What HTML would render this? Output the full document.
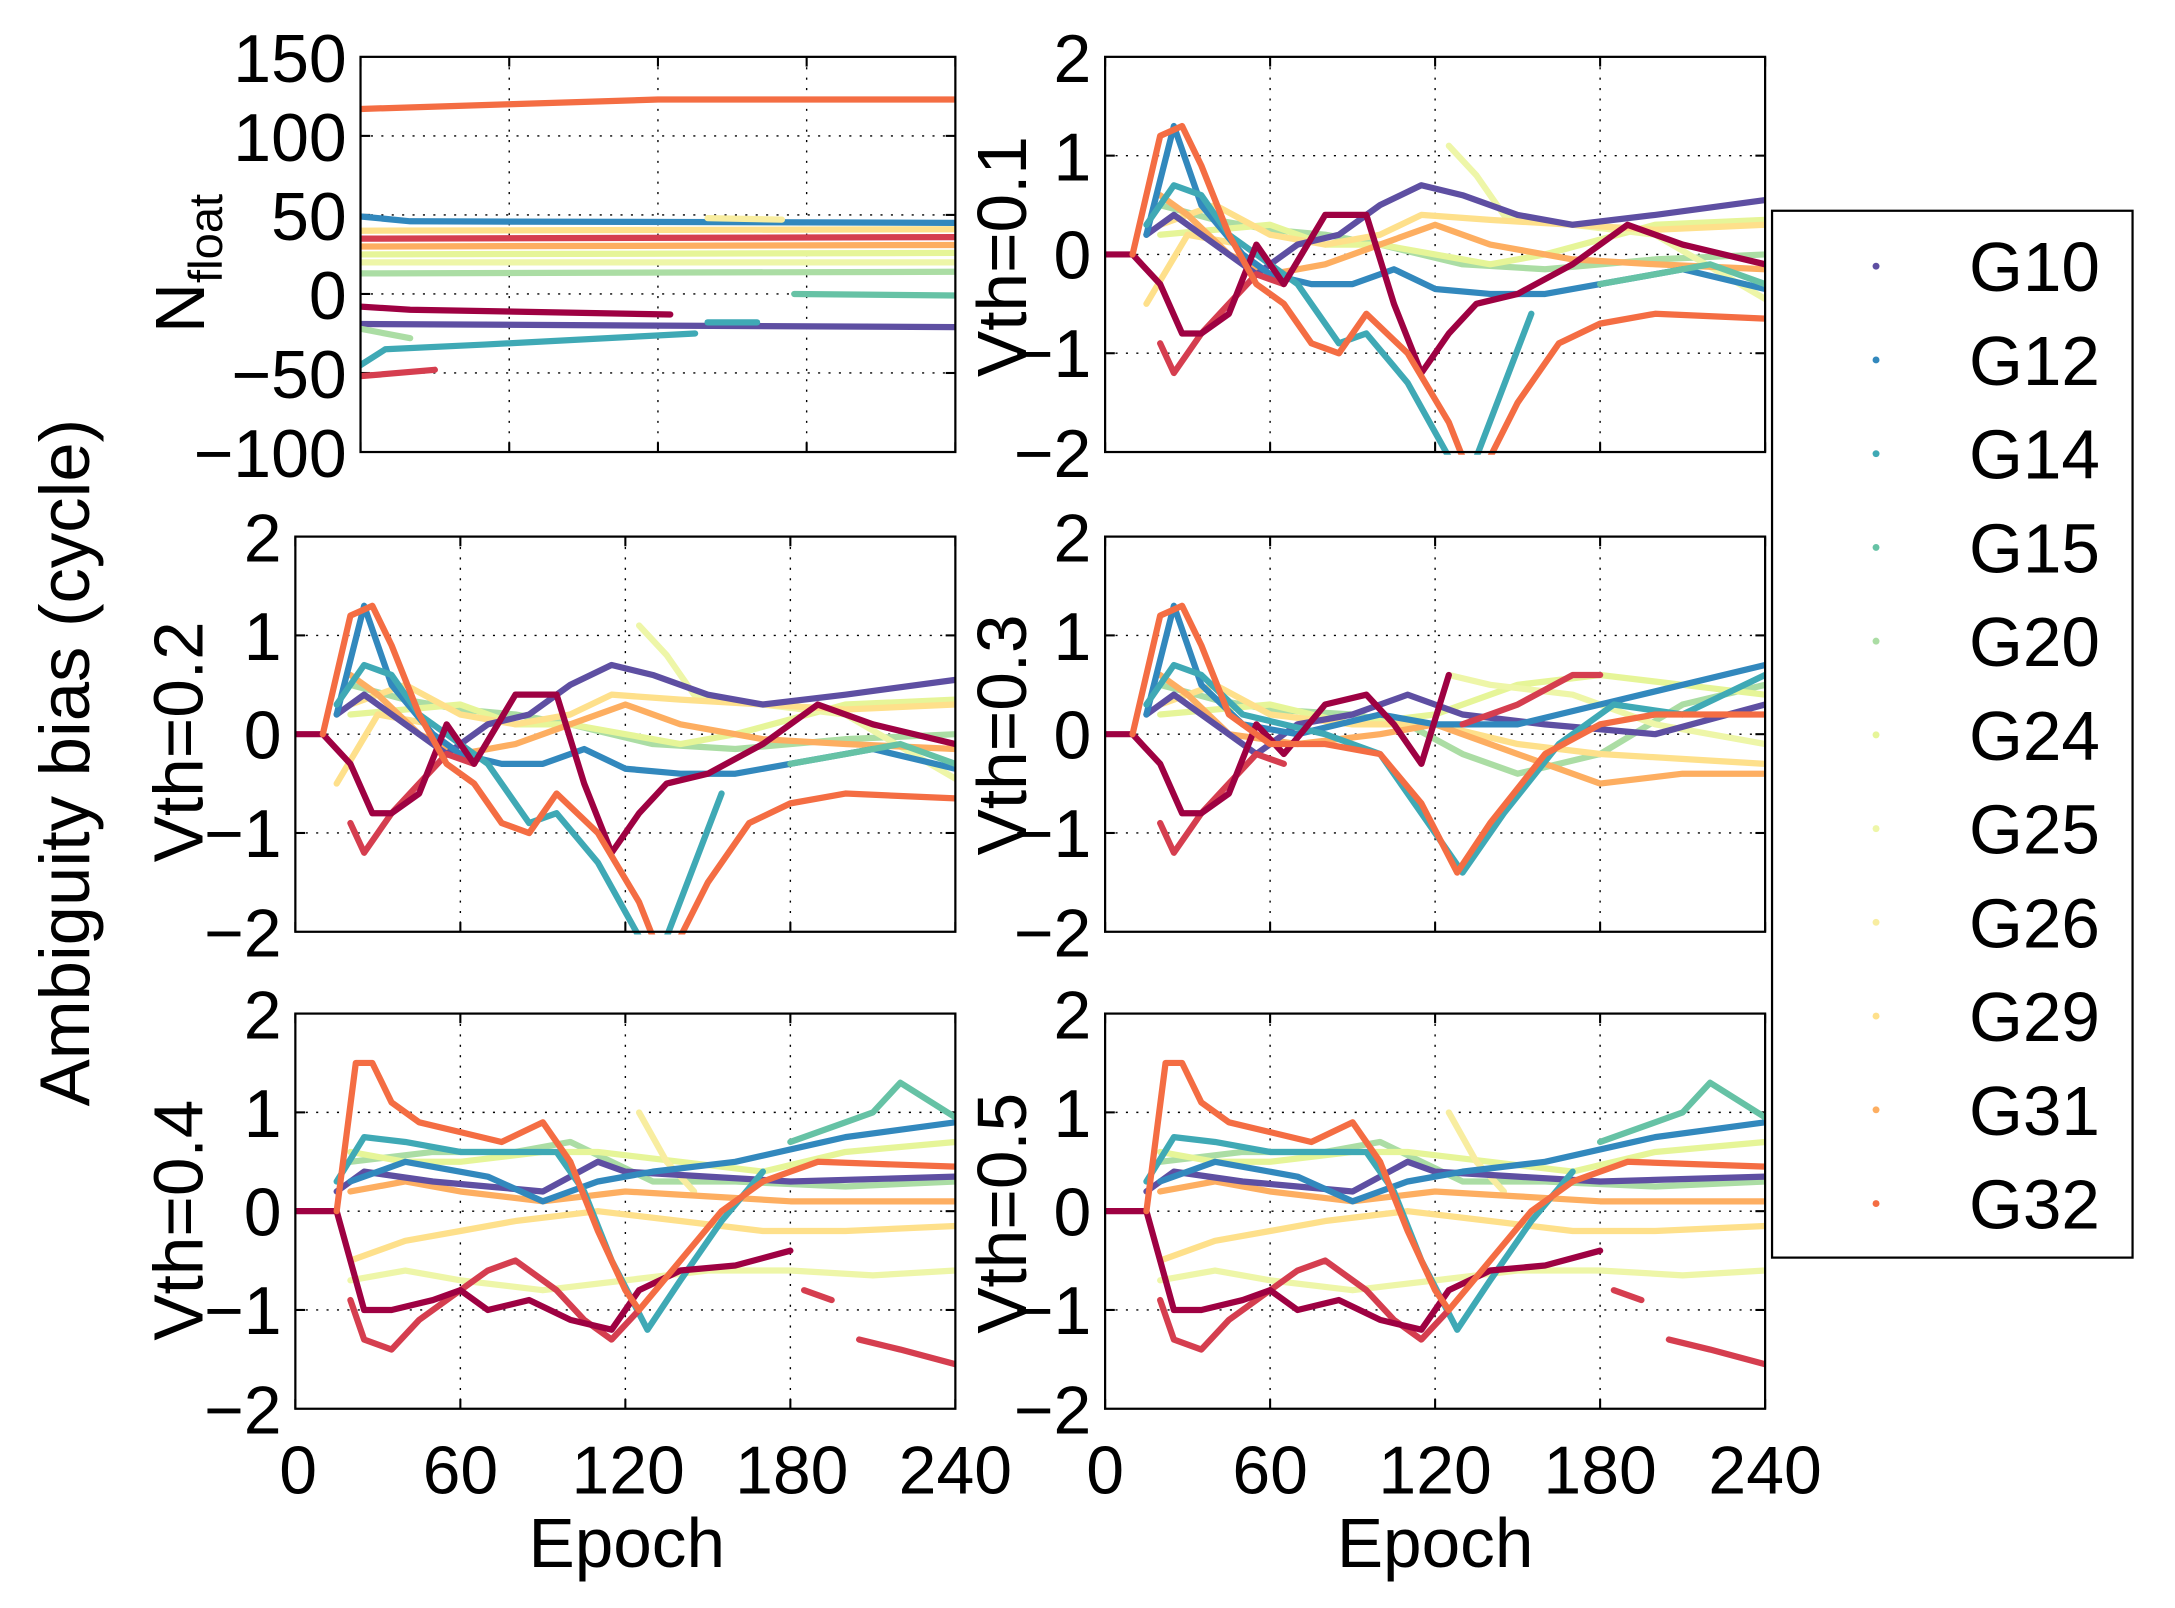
<!DOCTYPE html>
<html><head><meta charset="utf-8"><style>
html,body{margin:0;padding:0;background:#fff}
svg{display:block}
text{font-family:"Liberation Sans",Arial,sans-serif;fill:#000}
</style></head><body>
<svg id="s" width="2175" height="1608" viewBox="0 0 1568.6 1159.7" xmlns="http://www.w3.org/2000/svg">
<rect width="1570" height="1160" fill="#fff"/>
<g id="plots"></g>
<g id="frames" fill="none" stroke="#000" stroke-width="1.6">
<rect x="260" y="41" width="429" height="285"/>
<rect x="797" y="41" width="476" height="285"/>
<rect x="213" y="387" width="476" height="285"/>
<rect x="797" y="387" width="476" height="285"/>
<rect x="213" y="731" width="476" height="285"/>
<rect x="797" y="731" width="476" height="285"/>
</g>
<g font-size="49" text-anchor="end">
<text x="250" y="59">150</text><text x="250" y="116">100</text><text x="250" y="173">50</text><text x="250" y="230">0</text><text x="250" y="287">−50</text><text x="250" y="344">−100</text>
<text x="787" y="59">2</text><text x="787" y="130">1</text><text x="787" y="201">0</text><text x="787" y="272">−1</text><text x="787" y="344">−2</text>
<text x="203" y="405">2</text><text x="203" y="476">1</text><text x="203" y="547">0</text><text x="203" y="618">−1</text><text x="203" y="690">−2</text>
<text x="787" y="405">2</text><text x="787" y="476">1</text><text x="787" y="547">0</text><text x="787" y="618">−1</text><text x="787" y="690">−2</text>
<text x="203" y="749">2</text><text x="203" y="820">1</text><text x="203" y="891">0</text><text x="203" y="962">−1</text><text x="203" y="1034">−2</text>
<text x="787" y="749">2</text><text x="787" y="820">1</text><text x="787" y="891">0</text><text x="787" y="962">−1</text><text x="787" y="1034">−2</text>
</g>
<g font-size="49" text-anchor="middle">
<text x="215" y="1077">0</text><text x="332" y="1077">60</text><text x="453" y="1077">120</text><text x="571" y="1077">180</text><text x="689" y="1077">240</text>
<text x="797" y="1077">0</text><text x="916" y="1077">60</text><text x="1035" y="1077">120</text><text x="1154" y="1077">180</text><text x="1273" y="1077">240</text>
</g>
<g font-size="50" text-anchor="middle">
<text x="452" y="1130">Epoch</text><text x="1035" y="1130">Epoch</text>
<text transform="translate(147,190) rotate(-90)">N<tspan font-size="34" dy="13">float</tspan></text>
<text transform="translate(740,185) rotate(-90)">Vth=0.1</text>
<text transform="translate(146,535) rotate(-90)">Vth=0.2</text>
<text transform="translate(740,530) rotate(-90)">Vth=0.3</text>
<text transform="translate(146,880) rotate(-90)">Vth=0.4</text>
<text transform="translate(740,875) rotate(-90)">Vth=0.5</text>
<text font-size="51" transform="translate(64,550) rotate(-90)">Ambiguity bias (cycle)</text>
</g>
<rect x="1278" y="152" width="260" height="755" fill="#fff" stroke="#000" stroke-width="1.6"/>
<g id="leg" font-size="50"></g>
</svg>
<script>
const NS="http://www.w3.org/2000/svg";
const P=document.getElementById('plots');
function el(t,a,p){const e=document.createElementNS(NS,t);for(const k in a)e.setAttribute(k,a[k]);(p||P).appendChild(e);return e;}
const C={G10:'#5e4fa2',G12:'#3288bd',G14:'#3fa9b5',G15:'#66c2a5',G20:'#abdda4',G24:'#e6f598',G25:'#eef6a8',G26:'#f8eda0',G29:'#fee08b',G31:'#fdae61',G32:'#f46d43',R:'#d53e4f',D:'#9e0142'};
const names=['G10','G12','G14','G15','G20','G24','G25','G26','G29','G31','G32'];
const leg=document.getElementById('leg');
names.forEach((n,i)=>{const y=192+i*67.6;el('circle',{cx:1353,cy:y,r:2.5,fill:C[n]},leg);const t=el('text',{x:1420,y:y+18},leg);t.textContent=n;});
function panel(x0,y0,w,h,ymin,ymax,xt,yt,series){
  const g=el('g',{});
  xt.forEach(v=>{const x=x0+v/240*w;el('line',{x1:x,x2:x,y1:y0,y2:y0+h,stroke:'#000','stroke-width':1,'stroke-dasharray':'1.5 6'},g);});
  yt.forEach(v=>{const y=y0+(ymax-v)/(ymax-ymin)*h;el('line',{x1:x0,x2:x0+w,y1:y,y2:y,stroke:'#000','stroke-width':1,'stroke-dasharray':'1.5 6'},g);
    el('line',{x1:x0,x2:x0+7,y1:y,y2:y,stroke:'#000','stroke-width':1.5},g);el('line',{x1:x0+w-7,x2:x0+w,y1:y,y2:y,stroke:'#000','stroke-width':1.5},g);});
  xt.forEach(v=>{const x=x0+v/240*w;el('line',{x1:x,x2:x,y1:y0+h-7,y2:y0+h,stroke:'#000','stroke-width':1.5},g);el('line',{x1:x,x2:x,y1:y0,y2:y0+7,stroke:'#000','stroke-width':1.5},g);});
  const cp=el('clipPath',{id:'c'+x0+'_'+y0},g);el('rect',{x:x0,y:y0-2,width:w,height:h+4},cp);
  const sg=el('g',{'clip-path':'url(#c'+x0+'_'+y0+')'},g);
  series.forEach(([c,pts])=>{
    const d=pts.map(p=>(x0+p[0]/240*w).toFixed(1)+','+(y0+(ymax-p[1])/(ymax-ymin)*h).toFixed(1)).join(' ');
    el('polyline',{points:d,fill:'none',stroke:C[c],'stroke-width':4.5,'stroke-linejoin':'round','stroke-linecap':'round'},sg);
  });
}
const XT=[0,60,120,180,240],YT=[-1,0,1];
panel(260,41,429,285,-100,150,XT,[-50,0,50,100],[
 ['G32',[[0,117],[60,120],[120,123],[240,123]]],
 ['G12',[[0,49],[20,46],[240,45]]],
 ['G26',[[140,48],[170,47]]],
 ['G29',[[0,40],[240,41]]],['R',[[0,35],[240,36]]],['G31',[[0,30],[240,31]]],
 ['G24',[[0,25],[240,26]]],['G25',[[0,20],[240,20]]],['G20',[[0,13],[240,14]]],
 ['D',[[0,-8],[20,-10],[125,-13]]],['G10',[[0,-19],[240,-21]]],
 ['G14',[[0,-45],[10,-35],[50,-32],[135,-25]]],['G14',[[140,-18],[160,-18]]],
 ['G15',[[175,0],[240,-1]]],['G20',[[0,-22],[20,-28]]],['R',[[0,-52],[30,-48]]]
]);
const s1=[
 ['G20',[[20,0.5],[40,0.35],[60,0.25],[80,0.2],[100,0.1],[130,-0.1],[160,-0.15],[200,-0.05],[240,0]]],
 ['G24',[[20,0.2],[40,0.25],[60,0.3],[80,0.1],[100,0.1],[120,0],[140,-0.1],[160,0],[200,0.3],[240,0.35]]],
 ['G25',[[125,1.1],[135,0.8],[145,0.4],[170,0.3],[200,0.2],[240,-0.45]]],
 ['G29',[[20,0.3],[40,0.5],[60,0.2],[80,0.1],[100,0.2],[115,0.4],[140,0.35],[170,0.3],[200,0.25],[240,0.3]]],
 ['G29',[[15,-0.5],[30,0.2],[50,0.1]]],
 ['G31',[[20,0.6],[30,0.4],[45,0],[60,-0.2],[80,-0.1],[100,0.1],[120,0.3],[140,0.1],[170,-0.05],[200,-0.1],[240,-0.15]]],
 ['G10',[[15,0.2],[25,0.4],[40,0.1],[55,-0.2],[70,0.1],[85,0.2],[100,0.5],[115,0.7],[130,0.6],[150,0.4],[170,0.3],[200,0.4],[240,0.55]]],
 ['G12',[[15,0.2],[25,1.3],[35,0.5],[50,0],[60,-0.2],[75,-0.3],[90,-0.3],[105,-0.15],[120,-0.35],[140,-0.4],[160,-0.4],[180,-0.3],[210,-0.15],[240,-0.35]]],
 ['G15',[[180,-0.3],[200,-0.2],[220,-0.1],[240,-0.3]]],
 ['G14',[[15,0.3],[25,0.7],[35,0.6],[45,0.2],[55,0],[70,-0.3],[85,-0.9],[95,-0.8],[110,-1.3],[125,-2.05]]],
 ['G14',[[135,-2.05],[155,-0.6]]],
 ['R',[[20,-0.9],[25,-1.2],[35,-0.8],[45,-0.5],[55,-0.2],[65,-0.3]]],
 ['D',[[0,0],[10,0],[20,-0.3],[28,-0.8],[35,-0.8],[45,-0.6],[55,0.1],[65,-0.3],[80,0.4],[95,0.4],[105,-0.5],[115,-1.2],[125,-0.8],[135,-0.5],[150,-0.4],[170,-0.1],[190,0.3],[210,0.1],[240,-0.1]]],
 ['G32',[[10,0],[20,1.2],[28,1.3],[35,0.9],[45,0.2],[55,-0.3],[65,-0.5],[75,-0.9],[85,-1.0],[95,-0.6],[110,-1.0],[125,-1.7],[130,-2.05]]],
 ['G32',[[140,-2.05],[150,-1.5],[165,-0.9],[180,-0.7],[200,-0.6],[240,-0.65]]],
];
panel(797,41,476,285,-2,2,XT,YT,s1);
panel(213,387,476,285,-2,2,XT,YT,s1);
const s3=[
 ['G20',[[20,0.5],[40,0.35],[60,0.25],[90,0.2],[110,0.1],[130,-0.2],[150,-0.4],[180,-0.2],[210,0.3],[240,0.5]]],
 ['G24',[[20,0.2],[60,0.3],[90,0.1],[120,0.2],[150,0.5],[180,0.6],[210,0.5],[240,0.4]]],
 ['G25',[[125,0.6],[140,0.5],[170,0.4],[200,0.1],[240,-0.1]]],
 ['G29',[[20,0.3],[40,0.5],[60,0.2],[90,0.1],[120,0.1],[150,-0.1],[180,-0.2],[240,-0.3]]],
 ['G31',[[20,0.6],[30,0.4],[45,0],[70,-0.1],[100,0],[120,0.1],[150,-0.2],[180,-0.5],[210,-0.4],[240,-0.4]]],
 ['G10',[[15,0.2],[25,0.4],[40,0.1],[55,-0.2],[70,0.1],[90,0.2],[110,0.4],[130,0.2],[160,0.1],[200,0],[240,0.3]]],
 ['G12',[[15,0.2],[25,1.3],[35,0.5],[50,0.1],[70,0],[100,0.2],[120,0.1],[150,0.1],[180,0.3],[210,0.5],[240,0.7]]],
 ['G14',[[15,0.3],[25,0.7],[35,0.6],[50,0.2],[80,0],[100,-0.2],[115,-0.8],[130,-1.4],[145,-0.8],[165,-0.1],[185,0.3],[210,0.2],[240,0.6]]],
 ['R',[[20,-0.9],[25,-1.2],[35,-0.8],[45,-0.5],[55,-0.2],[65,-0.3]]],
 ['D',[[0,0],[10,0],[20,-0.3],[28,-0.8],[35,-0.8],[45,-0.6],[55,0.1],[65,-0.2],[80,0.3],[95,0.4],[105,0.1],[115,-0.3],[125,0.6]]],
 ['R',[[130,0.1],[150,0.3],[170,0.6],[180,0.6]]],
 ['G32',[[10,0],[20,1.2],[28,1.3],[35,0.9],[45,0.2],[60,-0.1],[80,-0.1],[100,-0.2],[115,-0.7],[128,-1.4],[140,-0.9],[160,-0.2],[180,0.1],[200,0.2],[240,0.2]]],
];
panel(797,387,476,285,-2,2,XT,YT,s3);
const s4=[
 ['G20',[[20,0.5],[50,0.6],[80,0.6],[100,0.7],[130,0.3],[160,0.3],[200,0.25],[240,0.3]]],
 ['G24',[[20,0.6],[40,0.5],[60,0.5],[90,0.6],[110,0.6],[140,0.5],[170,0.4],[200,0.6],[240,0.7]]],
 ['G25',[[20,-0.7],[40,-0.6],[60,-0.7],[90,-0.8],[120,-0.7],[150,-0.6],[180,-0.6],[210,-0.65],[240,-0.6]]],
 ['G26',[[125,1.0],[135,0.5],[145,0.2]]],
 ['G29',[[20,-0.5],[40,-0.3],[60,-0.2],[80,-0.1],[110,0],[140,-0.1],[170,-0.2],[200,-0.2],[240,-0.15]]],
 ['G31',[[20,0.2],[40,0.3],[60,0.2],[90,0.1],[120,0.2],[150,0.15],[180,0.1],[210,0.1],[240,0.1]]],
 ['G10',[[15,0.2],[25,0.4],[50,0.3],[70,0.25],[90,0.2],[110,0.5],[120,0.4],[150,0.35],[180,0.3],[240,0.35]]],
 ['G12',[[20,0.3],[40,0.5],[70,0.35],[90,0.1],[110,0.3],[130,0.4],[160,0.5],[200,0.75],[240,0.9]]],
 ['G15',[[180,0.7],[200,0.9],[210,1.0],[220,1.3],[240,0.95]]],
 ['G14',[[15,0.3],[25,0.75],[40,0.7],[60,0.6],[80,0.6],[95,0.6],[105,0.2],[115,-0.5],[128,-1.2],[140,-0.7],[155,-0.1],[170,0.4]]],
 ['R',[[20,-0.9],[25,-1.3],[35,-1.4],[45,-1.1],[55,-0.9],[70,-0.6],[80,-0.5],[95,-0.8],[105,-1.1],[115,-1.3],[125,-1.0]]],
 ['D',[[0,0],[15,0],[25,-1.0],[35,-1.0],[50,-0.9],[60,-0.8],[70,-1.0],[85,-0.9],[100,-1.1],[115,-1.2],[125,-0.8],[140,-0.6],[160,-0.55],[180,-0.4]]],
 ['R',[[185,-0.8],[195,-0.9]]],['R',[[205,-1.3],[220,-1.4],[240,-1.55]]],
 ['G32',[[15,0],[22,1.5],[28,1.5],[35,1.1],[45,0.9],[60,0.8],[75,0.7],[90,0.9],[100,0.5],[110,-0.2],[120,-0.8],[125,-1.0],[140,-0.5],[155,0],[170,0.3],[190,0.5],[240,0.45]]],
];
panel(213,731,476,285,-2,2,XT,YT,s4);
panel(797,731,476,285,-2,2,XT,YT,s4);
</script>
</body></html>
